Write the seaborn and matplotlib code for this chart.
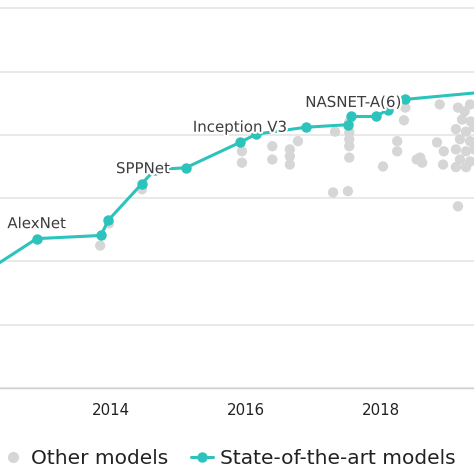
import numpy as np
import pandas as pd
import matplotlib
matplotlib.use("Agg")
import matplotlib.pyplot as plt
import matplotlib.patheffects as pe
from matplotlib.lines import Line2D
import seaborn as sns

# state-of-the-art models (year, top-1 accuracy)
sota_year = [2012.06, 2012.90, 2013.85, 2013.96, 2014.46, 2014.65, 2015.11, 2015.91,
             2016.15, 2016.89, 2017.51, 2017.56, 2017.93, 2018.10, 2018.36, 2019.47]
sota_acc = [57.8, 63.6, 64.1, 66.5, 72.3, 74.5, 74.8, 78.8,
            80.1, 81.2, 81.6, 82.9, 82.9, 84.0, 85.6, 86.7]

# other models
other_year = [2013.84, 2013.97, 2014.46, 2015.94, 2015.94, 2016.16, 2016.39, 2016.39,
              2016.65, 2016.65, 2016.65, 2016.77, 2017.29, 2017.51, 2017.32, 2017.53,
              2017.53, 2017.53, 2017.53, 2017.53, 2018.36, 2018.34, 2018.24, 2018.24,
              2018.03, 2018.58, 2018.61, 2018.53, 2018.87, 2018.83, 2018.93, 2018.92,
              2019.14, 2019.14, 2019.24, 2019.32, 2019.20, 2019.33, 2019.11, 2019.26,
              2019.38, 2019.17, 2019.32, 2019.11, 2019.26, 2019.38, 2019.17, 2019.32,
              2019.11, 2019.26]
other_acc = [62.5, 66.0, 71.4, 77.4, 75.6, 80.1, 78.2, 76.1,
             77.7, 76.6, 75.3, 79.0, 70.9, 71.1, 80.5, 82.0,
             80.4, 79.3, 78.2, 76.4, 84.3, 82.3, 79.0, 77.4,
             75.0, 76.4, 75.6, 76.1, 84.8, 78.8, 77.4, 75.3,
             68.7, 84.3, 83.7, 84.8, 82.4, 82.1, 80.9, 80.5,
             81.2, 79.3, 79.0, 77.7, 77.4, 77.7, 76.1, 75.8,
             74.9, 74.9]

# labelled models: name, index in sota lists
label_names = ["AlexNet", "SPPNet", "Inception V3", "NASNET-A(6)"]
label_index = [1, 5, 8, 14]

teal = "#2cc3bc"
gray = "#d6d6d6"

sota = pd.DataFrame({"year": sota_year, "acc": sota_acc})
other = pd.DataFrame({"year": other_year, "acc": other_acc})

sns.set_style("white")
fig = plt.figure(figsize=(4.74, 4.74), dpi=100)
ax = fig.add_axes([0, 86 / 474, 1, 388 / 474])

sns.scatterplot(data=other, x="year", y="acc", color=gray, s=55,
                edgecolor="none", ax=ax, zorder=2)
sns.lineplot(data=sota, x="year", y="acc", color=teal, linewidth=2.2,
             marker="o", markersize=7.5, markeredgewidth=0, ax=ax, zorder=3)

ax.set_xlim(2012.356, 2019.378)
ax.set_ylim(40, 101.3)
ax.set_yticks(np.arange(40, 101, 10))
ax.set_yticklabels([])
ax.set_xticks([2014, 2016, 2018])
ax.grid(axis="y", color="#e3e3e3", linewidth=1.1)
ax.set_axisbelow(True)
for s in ["top", "left", "right"]:
    ax.spines[s].set_visible(False)
ax.spines["bottom"].set_color("#cfcfcf")
ax.spines["bottom"].set_linewidth(1.0)
ax.tick_params(axis="x", length=8, width=0.8, color="#cfcfcf", pad=3,
               labelsize=10.8, labelcolor="#222222")
ax.tick_params(axis="y", length=0)
ax.set_xlabel("")
ax.set_ylabel("")

offsets = [(0, 10.8), (-8.6, 0.7), (-11.5, 5.0), (-37.4, -2.2)]
for name, i, off in zip(label_names, label_index, offsets):
    ax.annotate(name, (sota_year[i], sota_acc[i]), xytext=off,
                textcoords="offset points", ha="center", va="center",
                fontsize=10.8, color="#3d3d3d", zorder=5,
                path_effects=[pe.withStroke(linewidth=3, foreground="white")])

handles = [
    Line2D([], [], linestyle="none", marker="o", markersize=8,
           color=gray, markeredgewidth=0),
    Line2D([], [], color=teal, linewidth=2.2, marker="o", markersize=7.5,
           markeredgewidth=0),
]
fig.legend(handles, ["Other models", "State-of-the-art models"],
           loc="center", bbox_to_anchor=(0.483, 15 / 474), ncol=2,
           frameon=False, fontsize=14.5, handlelength=1.1,
           handletextpad=0.35, columnspacing=1.1, labelcolor="#222222")

fig.savefig("out.png", dpi=100)
